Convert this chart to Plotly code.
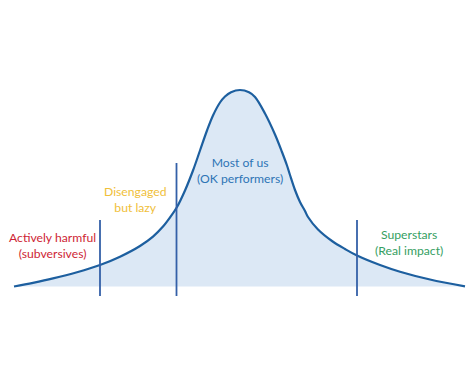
import plotly.graph_objects as go

# Curve: performance score (x) vs. relative number of people (height)
score = [14, 33, 53, 77, 100, 120, 140, 153, 163, 170, 177, 185, 193, 200, 207, 213, 220, 225,
         231, 240, 249, 255, 265, 275, 282, 287, 290, 295, 300, 305, 308, 318, 332, 345, 357,
         380, 400, 430, 465]
people = [0.0, 3.7, 8.1, 14.3, 21.5, 29.8, 40.5, 49.9, 59.9, 69.0, 79.5, 96.0, 116.0, 136.0,
          156.0, 171.0, 184.0, 190.0, 194.3, 196.5, 194.3, 189.5, 173.0, 152.0, 134.5, 121.0,
          111.5, 96.5, 84.5, 75.5, 69.5, 57.0, 45.5, 37.5, 31.0, 21.5, 14.8, 7.0, 0.2]

# Group boundaries and how tall their divider lines are
boundaries = [100, 176.5, 357]
boundary_tops = [66.5, 123.5, 66.5]
boundary_bottom = -9.5

# Group labels
labels = ["Actively harmful<br>(subversives)", "Disengaged<br>but lazy",
          "Most of us<br>(OK performers)", "Superstars<br>(Real impact)"]
label_x = [52.5, 135, 240, 409]
label_y = [41, 87.5, 116.5, 44.5]
label_colors = ["#CE1F35", "#F0C03A", "#2E75B6", "#35A062"]

fig = go.Figure()
fig.add_trace(go.Scatter(
    x=score, y=people, mode="lines",
    line=dict(color="#1D5F9F", width=2.2, shape="spline", smoothing=1.0),
    fill="tozeroy", fillcolor="#DCE8F5", hoverinfo="skip", showlegend=False))

for bx, bt in zip(boundaries, boundary_tops):
    fig.add_trace(go.Scatter(
        x=[bx, bx], y=[boundary_bottom, bt], mode="lines",
        line=dict(color="#3460A8", width=1.8), hoverinfo="skip", showlegend=False))

for t, lx, ly, c in zip(labels, label_x, label_y, label_colors):
    fig.add_annotation(x=lx, y=ly, text=t, showarrow=False,
                       font=dict(family="Lato, Open Sans, sans-serif", size=12.2, color=c),
                       xanchor="center", yanchor="middle", align="center")

# the page places the figure 8px in from the top-left corner; offset the ranges to compensate
fig.update_layout(
    width=474, height=376,
    margin=dict(l=0, r=0, t=0, b=0),
    paper_bgcolor="white", plot_bgcolor="white",
    xaxis=dict(range=[8, 482], visible=False, fixedrange=True),
    yaxis=dict(range=[-97.5, 278.5], visible=False, fixedrange=True),
)

fig.write_html("out.html")
